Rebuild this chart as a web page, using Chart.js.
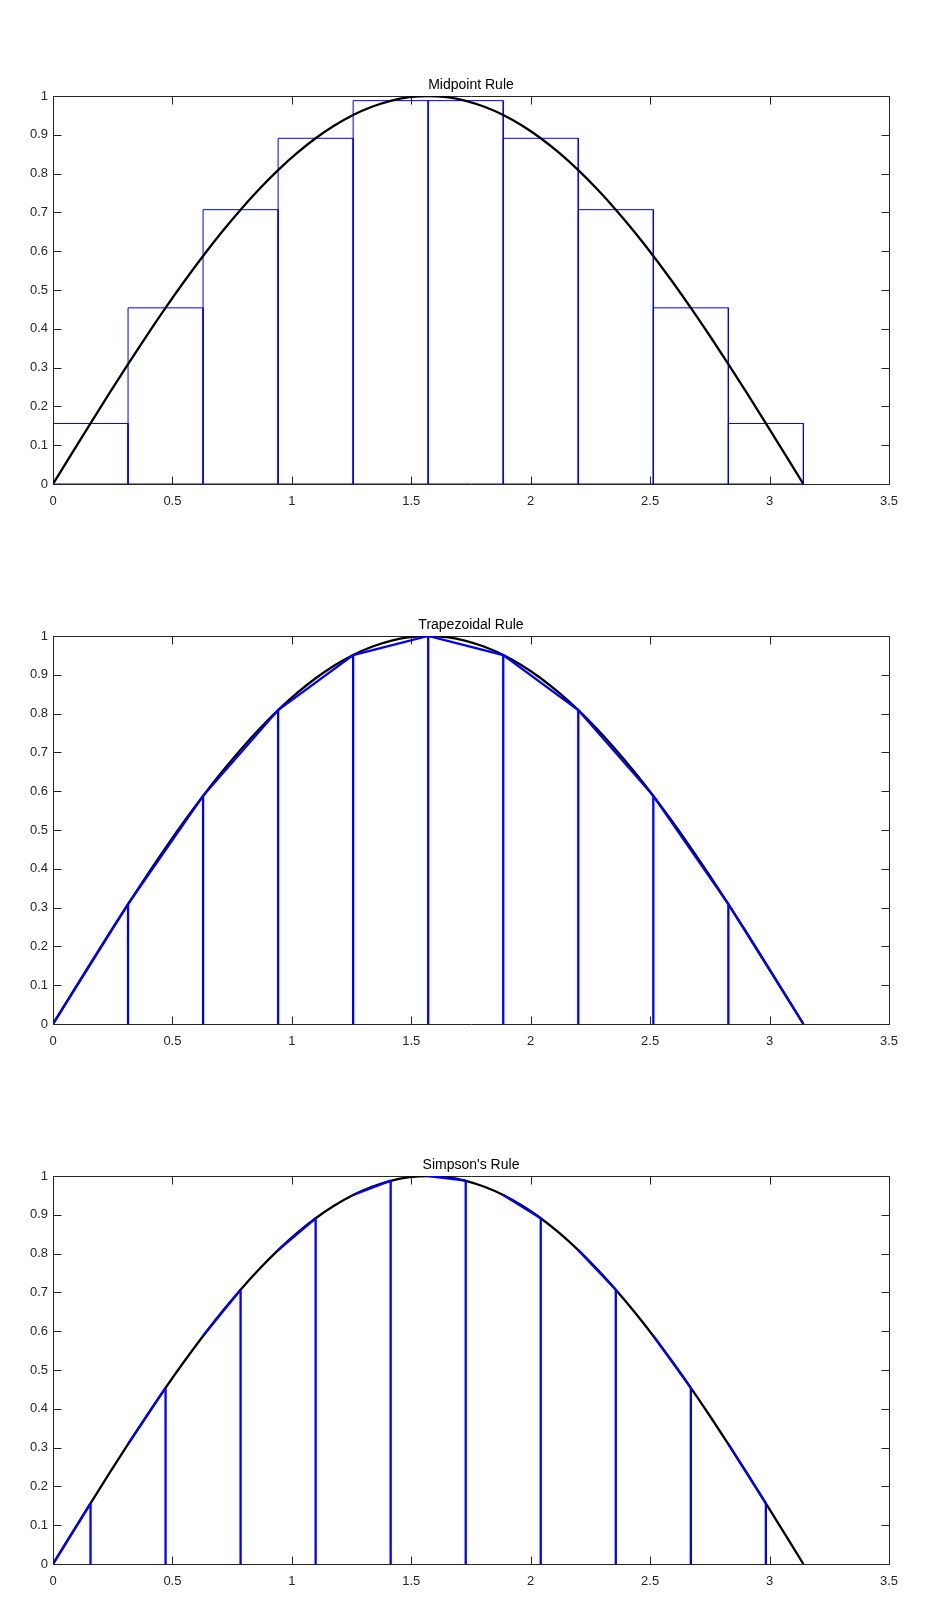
<!DOCTYPE html>
<html>
<head>
<meta charset="utf-8">
<script src="https://cdn.jsdelivr.net/npm/chart.js@4/dist/chart.umd.min.js"></script>
<style>
  html, body { margin: 0; padding: 0; background: #fff; }
  #wrap { position: relative; width: 935px; height: 1615px; background: #fff; }
  .panel { position: absolute; left: 0; width: 935px; height: 540px; }
</style>
</head>
<body>
<div id="wrap">
  <div class="panel" style="top:0px"><canvas id="c1" width="935" height="540"></canvas></div>
  <div class="panel" style="top:540px"><canvas id="c2" width="935" height="540"></canvas></div>
  <div class="panel" style="top:1080px"><canvas id="c3" width="935" height="540"></canvas></div>
</div>
<script>
// ---------- data ----------
const titles = ["Midpoint Rule", "Trapezoidal Rule", "Simpson's Rule"];
const xTickLabels = ["0", "0.5", "1", "1.5", "2", "2.5", "3", "3.5"];
const yTickLabels = ["0", "0.1", "0.2", "0.3", "0.4", "0.5", "0.6", "0.7", "0.8", "0.9", "1"];

// black reference curve
const curveX = [0, 0.0785, 0.1571, 0.2356, 0.3142, 0.3927, 0.4712, 0.5498, 0.6283, 0.7069,
  0.7854, 0.8639, 0.9425, 1.0210, 1.0996, 1.1781, 1.2566, 1.3352, 1.4137, 1.4923,
  1.5708, 1.6493, 1.7279, 1.8064, 1.8850, 1.9635, 2.0420, 2.1206, 2.1991, 2.2777,
  2.3562, 2.4347, 2.5133, 2.5918, 2.6704, 2.7489, 2.8274, 2.9060, 2.9845, 3.0631, 3.1416];
const curveY = [0, 0.0785, 0.1564, 0.2334, 0.3090, 0.3827, 0.4540, 0.5225, 0.5878, 0.6494,
  0.7071, 0.7604, 0.8090, 0.8526, 0.8910, 0.9239, 0.9511, 0.9724, 0.9877, 0.9969,
  1.0, 0.9969, 0.9877, 0.9724, 0.9511, 0.9239, 0.8910, 0.8526, 0.8090, 0.7604,
  0.7071, 0.6494, 0.5878, 0.5225, 0.4540, 0.3827, 0.3090, 0.2334, 0.1564, 0.0785, 0];

// midpoint rule rectangles
const midEdges = [0, 0.3142, 0.6283, 0.9425, 1.2566, 1.5708, 1.8850, 2.1991, 2.5133, 2.8274, 3.1416];
const midHeights = [0.156, 0.454, 0.707, 0.891, 0.988, 0.988, 0.891, 0.707, 0.454, 0.156];

// trapezoidal rule nodes
const trapX = [0, 0.3142, 0.6283, 0.9425, 1.2566, 1.5708, 1.8850, 2.1991, 2.5133, 2.8274, 3.1416];
const trapY = [0, 0.309, 0.588, 0.809, 0.951, 1.0, 0.951, 0.809, 0.588, 0.309, 0];

// simpson's rule nodes
const simpX = [0, 0.1571, 0.3142, 0.4712, 0.6283, 0.7854, 0.9425, 1.0996, 1.2566, 1.4137, 1.5708,
  1.7279, 1.8850, 2.0420, 2.1991, 2.3562, 2.5133, 2.6704, 2.8274, 2.9845, 3.1416];
const simpY = [0, 0.156, 0.309, 0.454, 0.588, 0.707, 0.809, 0.891, 0.951, 0.988, 1.0,
  0.988, 0.951, 0.891, 0.809, 0.707, 0.588, 0.454, 0.309, 0.156, 0];

// ---------- helpers ----------
const BLUE = '#0000ff';
const BLACK = '#000000';
const AXIS = '#262626';
const FONT = "'Liberation Sans', Arial, sans-serif";

function pts(xs, ys) { return xs.map((x, i) => ({ x: x, y: ys[i] })); }
function lineDs(data, color, width, smooth) {
  const d = { data: data, borderColor: color, backgroundColor: color, borderWidth: width,
    showLine: true, pointRadius: 0, pointHoverRadius: 0, fill: false, tension: 0 };
  if (smooth) { d.cubicInterpolationMode = 'monotone'; }
  return d;
}

const frame = {
  id: 'frame',
  beforeDatasetsDraw(chart) {
    const ctx = chart.ctx;
    const a = chart.chartArea;
    const xs = chart.scales.x, ys = chart.scales.y;
    const L = Math.round(a.left) + 0.5, R = Math.round(a.right) + 0.5;
    const T = Math.round(a.top) + 0.5, B = Math.round(a.bottom) + 0.5;
    ctx.save();
    ctx.strokeStyle = AXIS;
    ctx.lineWidth = 1;
    ctx.beginPath();
    ctx.rect(L, T, R - L, B - T);
    const TL = 8;
    xs.ticks.forEach(t => {
      const px = Math.round(xs.getPixelForValue(t.value)) + 0.5;
      ctx.moveTo(px, B); ctx.lineTo(px, B - TL);
      ctx.moveTo(px, T); ctx.lineTo(px, T + TL);
    });
    ys.ticks.forEach(t => {
      const py = Math.round(ys.getPixelForValue(t.value)) + 0.5;
      ctx.moveTo(L, py); ctx.lineTo(L + TL, py);
      ctx.moveTo(R, py); ctx.lineTo(R - TL, py);
    });
    ctx.stroke();
    ctx.restore();
  },
  afterDraw(chart) {
    const ctx = chart.ctx;
    const a = chart.chartArea;
    ctx.save();
    ctx.fillStyle = BLACK;
    ctx.font = '14px ' + FONT;
    ctx.textAlign = 'center';
    ctx.textBaseline = 'alphabetic';
    ctx.fillText(chart.options.plugins.frame.title, (a.left + a.right) / 2, a.top - 7);
    ctx.restore();
  }
};

function makeChart(id, title, datasets) {
  return new Chart(document.getElementById(id), {
    type: 'scatter',
    data: { datasets: datasets },
    plugins: [frame],
    options: {
      responsive: false,
      animation: false,
      devicePixelRatio: 1,
      layout: { padding: { left: 0, right: 46, top: 96, bottom: 0 } },
      plugins: { legend: { display: false }, tooltip: { enabled: false }, frame: { title: title } },
      events: [],
      scales: {
        x: {
          type: 'linear', position: 'bottom', min: 0, max: 3.5,
          grid: { display: false, drawTicks: false }, border: { display: false },
          afterFit(s) { s.height = 56; },
          ticks: { stepSize: 0.5, padding: 10, color: AXIS, maxRotation: 0, autoSkip: false,
            font: { family: FONT, size: 13 },
            callback: (v, i) => xTickLabels[i] }
        },
        y: {
          type: 'linear', position: 'left', min: 0, max: 1,
          grid: { display: false, drawTicks: false }, border: { display: false },
          afterFit(s) { s.width = 53; },
          ticks: { stepSize: 0.1, padding: 5, color: AXIS, autoSkip: false,
            font: { family: FONT, size: 13 },
            callback: (v, i) => yTickLabels[i] }
        }
      }
    }
  });
}

// ---------- chart 1: midpoint ----------
const ds1 = [lineDs(pts(curveX, curveY), BLACK, 2.3, true)];
midHeights.forEach((h, i) => {
  const a = midEdges[i], b = midEdges[i + 1];
  ds1.push(lineDs([{ x: a, y: 0 }, { x: a, y: h }, { x: b, y: h }, { x: b, y: 0 }, { x: a, y: 0 }], BLUE, 1));
});
makeChart('c1', titles[0], ds1);

// ---------- chart 2: trapezoidal ----------
const ds2 = [lineDs(pts(trapX, trapY), BLUE, 2.3)];
trapX.forEach((x, i) => {
  if (trapY[i] > 0) ds2.push(lineDs([{ x: x, y: 0 }, { x: x, y: trapY[i] }], BLUE, 2.3));
});
ds2.push(lineDs(pts(curveX, curveY), BLACK, 2.3, true));
makeChart('c2', titles[1], ds2);

// ---------- chart 3: simpson ----------
const ds3 = [];
for (let k = 0; k + 1 < simpX.length; k += 2) {
  ds3.push(lineDs([{ x: simpX[k], y: simpY[k] }, { x: simpX[k + 1], y: simpY[k + 1] }], BLUE, 2.3));
  ds3.push(lineDs([{ x: simpX[k + 1], y: 0 }, { x: simpX[k + 1], y: simpY[k + 1] }], BLUE, 2.3));
}
ds3.push(lineDs(pts(curveX, curveY), BLACK, 2.3, true));
makeChart('c3', titles[2], ds3);
</script>
</body>
</html>
